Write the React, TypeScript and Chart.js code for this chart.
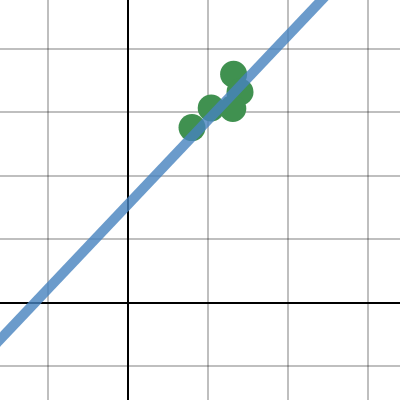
import { useEffect, useRef } from 'react';
import Chart from 'chart.js/auto';

// scatter points
const pointX = [0.8, 1.04, 1.32, 1.4, 1.31];
const pointY = [2.76, 3.07, 3.6, 3.32, 3.06];

// fitted line endpoints (runs past the plot edges)
const lineX = [-2, 3];
const lineY = [-1.11, 5.54];

const xRange = [-1.6, 3.4];
const yRange = [-1.53, 4.77];

// grid positions
const xGrid = [-1, 0, 1, 2, 3];
const yGrid = [-1, 0, 1, 2, 3, 4];

const gridColor = (ctx: any) => (ctx.tick && ctx.tick.value === 0 ? '#000' : 'rgba(0, 0, 0, 0.25)');

export default function App() {
  const canvasRef = useRef<HTMLCanvasElement | null>(null);
  const chartRef = useRef<Chart | null>(null);

  useEffect(() => {
    document.body.style.margin = '0';
    if (!canvasRef.current) return;
    const ctx = canvasRef.current.getContext('2d');
    if (!ctx) return;

    chartRef.current = new Chart(ctx, {
      type: 'scatter',
      data: {
        datasets: [
          {
            type: 'line',
            label: 'fit',
            data: lineX.map((x, i) => ({ x, y: lineY[i] })),
            borderColor: 'rgba(70, 130, 190, 0.8)',
            borderWidth: 10,
            pointRadius: 0,
            fill: false,
          },
          {
            label: 'points',
            data: pointX.map((x, i) => ({ x, y: pointY[i] })),
            backgroundColor: 'rgb(64, 145, 80)',
            borderWidth: 0,
            pointRadius: 13.5,
          },
        ],
      },
      options: {
        animation: false,
        responsive: false,
        layout: { padding: 0, autoPadding: false },
        plugins: {
          legend: { display: false },
          tooltip: { enabled: false },
        },
        scales: {
          x: {
            type: 'linear',
            min: xRange[0],
            max: xRange[1],
            ticks: { display: false },
            afterBuildTicks: (scale: any) => {
              scale.ticks = xGrid.map((value) => ({ value }));
            },
            grid: { color: gridColor, lineWidth: 2, drawTicks: false },
            border: { display: false },
          },
          y: {
            type: 'linear',
            min: yRange[0],
            max: yRange[1],
            ticks: { display: false },
            afterBuildTicks: (scale: any) => {
              scale.ticks = yGrid.map((value) => ({ value }));
            },
            grid: { color: gridColor, lineWidth: 2, drawTicks: false },
            border: { display: false },
          },
        },
      },
    });

    return () => {
      if (chartRef.current) {
        chartRef.current.destroy();
        chartRef.current = null;
      }
    };
  }, []);

  return (
    <div style={{ width: 400, height: 400, background: '#fff' }}>
      <canvas ref={canvasRef} width={400} height={400} />
    </div>
  );
}
